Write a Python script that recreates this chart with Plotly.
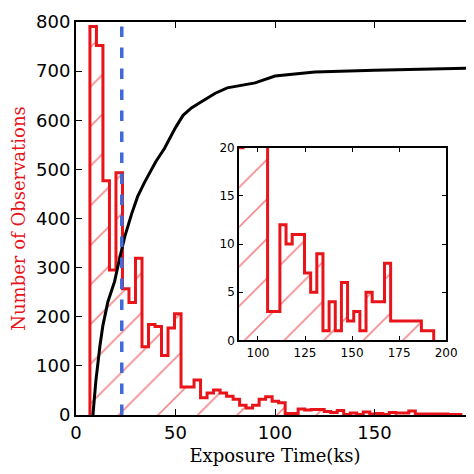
import plotly.graph_objects as go

# histogram bins (ks)
bin_start = 7.0
bin_width = 3.27
counts = [791, 752, 477, 295, 493, 257, 229, 319, 139, 184, 180, 121, 177, 206,
          57, 57, 71, 35, 45, 51, 45, 38, 32, 20, 14, 20, 32, 37, 28, 25,
          3, 3, 12, 10, 11, 11, 7, 5, 9, 1, 4, 1, 6, 2, 3, 1, 5, 4, 4, 8,
          2, 2, 2, 2, 2, 1, 1]
edges = [bin_start + bin_width * i for i in range(len(counts) + 1)]
step_x = [edges[0]] + edges
step_y = [0] + counts + [0]

# cumulative curve (in left-axis units)
cum_x = [8.5, 10, 12, 13.5, 16, 19.4, 22, 24.5, 28, 31, 34.5, 40, 44.5, 50, 53.8,
         58, 62.8, 70, 76, 90, 100, 120, 150, 200]
cum_y = [0, 70, 140, 182, 230, 272, 320, 363, 410, 445, 474, 515, 543, 585, 610,
         625, 637, 655, 666, 676, 690, 698, 702, 706]

median_exp = 23

red = "#e8141a"
hatch = dict(shape="/", fgcolor=red, bgcolor="rgba(0,0,0,0)", size=28, solidity=0.06)
fig = go.Figure()

fig.add_trace(go.Scatter(x=step_x, y=step_y, mode="lines", line=dict(color=red, width=3, shape="hv"),
                         fill="tozeroy", fillcolor="rgba(0,0,0,0)", fillpattern=hatch))
fig.add_trace(go.Scatter(x=cum_x, y=cum_y, mode="lines", line=dict(color="black", width=3)))
fig.add_trace(go.Scatter(x=[median_exp, median_exp], y=[0, 800], mode="lines",
                         line=dict(color="#4169d8", width=3.5, dash="dash")))

# inset: white backing then histogram
fig.add_trace(go.Scatter(x=[90, 200, 200, 90, 90], y=[0, 0, 20, 20, 0], fill="toself",
                         fillcolor="white", line=dict(width=0), mode="lines",
                         xaxis="x2", yaxis="y2", hoverinfo="skip"))
fig.add_trace(go.Scatter(x=step_x, y=step_y, mode="lines", line=dict(color=red, width=3, shape="hv"),
                         fill="tozeroy", fillcolor="rgba(0,0,0,0)", fillpattern=hatch,
                         xaxis="x2", yaxis="y2", cliponaxis=True))

ax = dict(showgrid=False, zeroline=False, showline=True, linecolor="black", linewidth=2,
          mirror="ticks", ticks="inside", ticklen=6, tickcolor="black", automargin=False,
          tickfont=dict(family="DejaVu Sans", size=18, color="black"))
fig.update_layout(
    width=474, height=474, showlegend=False,
    plot_bgcolor="white", paper_bgcolor="white",
    margin=dict(l=68, r=8, t=14, b=67),
    xaxis=dict(ax, range=[0, 200], tickvals=[0, 50, 100, 150, 200],
               title=dict(text="Exposure Time(ks)", font=dict(family="DejaVu Serif", size=18, color="black"),
                          standoff=8)),
    yaxis=dict(ax, range=[0, 800], dtick=100,
               title=dict(text="Number of Observations", font=dict(family="DejaVu Serif", size=18, color=red),
                          standoff=8)),
    xaxis2=dict(ax, domain=[0.41, 0.93], anchor="y2", range=[90, 200], tickvals=[100, 125, 150, 175, 200],
                ticklen=4, tickfont=dict(family="DejaVu Sans", size=12, color="black")),
    yaxis2=dict(ax, domain=[0.19, 0.68], anchor="x2", range=[0, 20], tickvals=[0, 5, 10, 15, 20],
                ticklen=4, tickfont=dict(family="DejaVu Sans", size=12, color="black")),
)

fig.write_html("out.html")
